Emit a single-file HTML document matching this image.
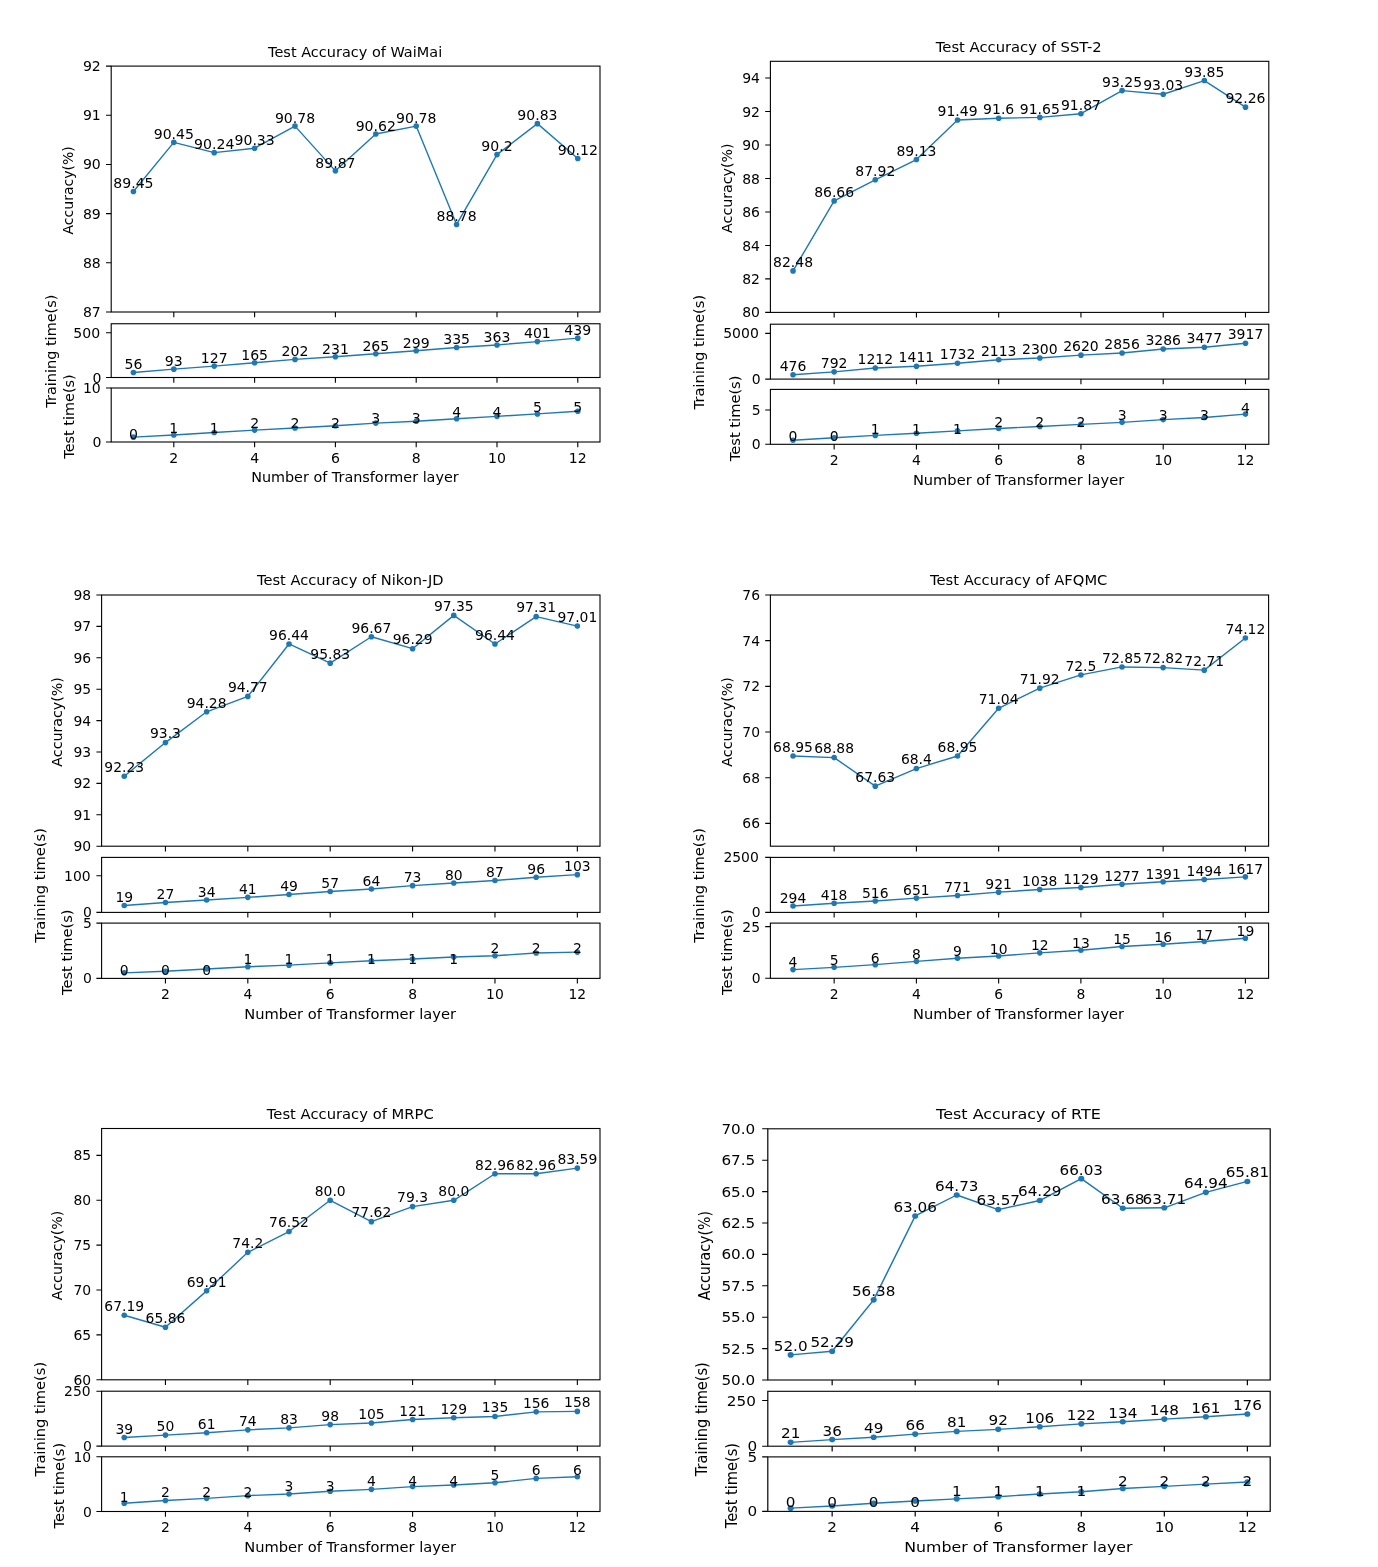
<!DOCTYPE html>
<html lang="en"><head><meta charset="utf-8"><title>Test accuracy vs number of Transformer layers</title>
<style>html,body{margin:0;padding:0;background:#fff}svg{display:block}text{font-family:"DejaVu Sans","Liberation Sans",sans-serif;fill:#000}</style>
</head><body>
<svg width="1378" height="1567" viewBox="0 0 1378 1567">
<rect width="1378" height="1567" fill="#fff"/>
<g>
<polyline points="133.42,191.51 173.81,142.33 214.21,152.66 254.61,148.23 295,126.1 335.4,170.85 375.8,133.97 416.2,126.1 456.59,224.46 496.99,154.62 537.39,123.64 577.78,158.56" fill="none" stroke="#1f77b4" stroke-width="1.4" stroke-linejoin="round"/>
<circle cx="133.42" cy="191.51" r="2.8" fill="#1f77b4"/>
<circle cx="173.81" cy="142.33" r="2.8" fill="#1f77b4"/>
<circle cx="214.21" cy="152.66" r="2.8" fill="#1f77b4"/>
<circle cx="254.61" cy="148.23" r="2.8" fill="#1f77b4"/>
<circle cx="295" cy="126.1" r="2.8" fill="#1f77b4"/>
<circle cx="335.4" cy="170.85" r="2.8" fill="#1f77b4"/>
<circle cx="375.8" cy="133.97" r="2.8" fill="#1f77b4"/>
<circle cx="416.2" cy="126.1" r="2.8" fill="#1f77b4"/>
<circle cx="456.59" cy="224.46" r="2.8" fill="#1f77b4"/>
<circle cx="496.99" cy="154.62" r="2.8" fill="#1f77b4"/>
<circle cx="537.39" cy="123.64" r="2.8" fill="#1f77b4"/>
<circle cx="577.78" cy="158.56" r="2.8" fill="#1f77b4"/>
<text transform="translate(133.42 188.31) scale(1.027 1)" font-size="13.7" text-anchor="middle">89.45</text>
<text transform="translate(173.81 139.13) scale(1.027 1)" font-size="13.7" text-anchor="middle">90.45</text>
<text transform="translate(214.21 149.46) scale(1.027 1)" font-size="13.7" text-anchor="middle">90.24</text>
<text transform="translate(254.61 145.03) scale(1.027 1)" font-size="13.7" text-anchor="middle">90.33</text>
<text transform="translate(295 122.9) scale(1.027 1)" font-size="13.7" text-anchor="middle">90.78</text>
<text transform="translate(335.4 167.65) scale(1.027 1)" font-size="13.7" text-anchor="middle">89.87</text>
<text transform="translate(375.8 130.77) scale(1.027 1)" font-size="13.7" text-anchor="middle">90.62</text>
<text transform="translate(416.2 122.9) scale(1.027 1)" font-size="13.7" text-anchor="middle">90.78</text>
<text transform="translate(456.59 221.26) scale(1.027 1)" font-size="13.7" text-anchor="middle">88.78</text>
<text transform="translate(496.99 151.42) scale(1.027 1)" font-size="13.7" text-anchor="middle">90.2</text>
<text transform="translate(537.39 120.44) scale(1.027 1)" font-size="13.7" text-anchor="middle">90.83</text>
<text transform="translate(577.78 155.36) scale(1.027 1)" font-size="13.7" text-anchor="middle">90.12</text>
<path d="M173.81 312v5.2M254.61 312v5.2M335.4 312v5.2M416.2 312v5.2M496.99 312v5.2M577.78 312v5.2M111.2 312h-5.2M111.2 262.82h-5.2M111.2 213.64h-5.2M111.2 164.46h-5.2M111.2 115.28h-5.2M111.2 66.1h-5.2" stroke="#000" stroke-width="1.1" fill="none"/>
<rect x="111.2" y="66.1" width="488.8" height="245.9" fill="none" stroke="#000" stroke-width="1.1"/>
<text transform="translate(100.8 317) scale(1.027 1)" font-size="13.7" text-anchor="end">87</text>
<text transform="translate(100.8 267.82) scale(1.027 1)" font-size="13.7" text-anchor="end">88</text>
<text transform="translate(100.8 218.64) scale(1.027 1)" font-size="13.7" text-anchor="end">89</text>
<text transform="translate(100.8 169.46) scale(1.027 1)" font-size="13.7" text-anchor="end">90</text>
<text transform="translate(100.8 120.28) scale(1.027 1)" font-size="13.7" text-anchor="end">91</text>
<text transform="translate(100.8 71.1) scale(1.027 1)" font-size="13.7" text-anchor="end">92</text>
<polyline points="133.42,372.48 173.81,369.17 214.21,366.12 254.61,362.72 295,359.4 335.4,356.81 375.8,353.76 416.2,350.71 456.59,347.49 496.99,344.98 537.39,341.58 577.78,338.17" fill="none" stroke="#1f77b4" stroke-width="1.4" stroke-linejoin="round"/>
<circle cx="133.42" cy="372.48" r="2.8" fill="#1f77b4"/>
<circle cx="173.81" cy="369.17" r="2.8" fill="#1f77b4"/>
<circle cx="214.21" cy="366.12" r="2.8" fill="#1f77b4"/>
<circle cx="254.61" cy="362.72" r="2.8" fill="#1f77b4"/>
<circle cx="295" cy="359.4" r="2.8" fill="#1f77b4"/>
<circle cx="335.4" cy="356.81" r="2.8" fill="#1f77b4"/>
<circle cx="375.8" cy="353.76" r="2.8" fill="#1f77b4"/>
<circle cx="416.2" cy="350.71" r="2.8" fill="#1f77b4"/>
<circle cx="456.59" cy="347.49" r="2.8" fill="#1f77b4"/>
<circle cx="496.99" cy="344.98" r="2.8" fill="#1f77b4"/>
<circle cx="537.39" cy="341.58" r="2.8" fill="#1f77b4"/>
<circle cx="577.78" cy="338.17" r="2.8" fill="#1f77b4"/>
<text transform="translate(133.42 369.28) scale(1.027 1)" font-size="13.7" text-anchor="middle">56</text>
<text transform="translate(173.81 365.97) scale(1.027 1)" font-size="13.7" text-anchor="middle">93</text>
<text transform="translate(214.21 362.92) scale(1.027 1)" font-size="13.7" text-anchor="middle">127</text>
<text transform="translate(254.61 359.52) scale(1.027 1)" font-size="13.7" text-anchor="middle">165</text>
<text transform="translate(295 356.2) scale(1.027 1)" font-size="13.7" text-anchor="middle">202</text>
<text transform="translate(335.4 353.61) scale(1.027 1)" font-size="13.7" text-anchor="middle">231</text>
<text transform="translate(375.8 350.56) scale(1.027 1)" font-size="13.7" text-anchor="middle">265</text>
<text transform="translate(416.2 347.51) scale(1.027 1)" font-size="13.7" text-anchor="middle">299</text>
<text transform="translate(456.59 344.29) scale(1.027 1)" font-size="13.7" text-anchor="middle">335</text>
<text transform="translate(496.99 341.78) scale(1.027 1)" font-size="13.7" text-anchor="middle">363</text>
<text transform="translate(537.39 338.38) scale(1.027 1)" font-size="13.7" text-anchor="middle">401</text>
<text transform="translate(577.78 334.97) scale(1.027 1)" font-size="13.7" text-anchor="middle">439</text>
<path d="M173.81 377.5v5.2M254.61 377.5v5.2M335.4 377.5v5.2M416.2 377.5v5.2M496.99 377.5v5.2M577.78 377.5v5.2M111.2 377.5h-5.2M111.2 332.71h-5.2" stroke="#000" stroke-width="1.1" fill="none"/>
<rect x="111.2" y="323.75" width="488.8" height="53.75" fill="none" stroke="#000" stroke-width="1.1"/>
<text transform="translate(101.4 382.5) scale(1.027 1)" font-size="13.7" text-anchor="end">0</text>
<text transform="translate(100.2 337.71) scale(1.027 1)" font-size="13.7" text-anchor="end">500</text>
<polyline points="133.42,437.14 173.81,434.98 214.21,432.55 254.61,430.12 295,427.96 335.4,425.8 375.8,423.1 416.2,421.21 456.59,418.78 496.99,416.35 537.39,413.92 577.78,411.22" fill="none" stroke="#1f77b4" stroke-width="1.4" stroke-linejoin="round"/>
<circle cx="133.42" cy="437.14" r="2.8" fill="#1f77b4"/>
<circle cx="173.81" cy="434.98" r="2.8" fill="#1f77b4"/>
<circle cx="214.21" cy="432.55" r="2.8" fill="#1f77b4"/>
<circle cx="254.61" cy="430.12" r="2.8" fill="#1f77b4"/>
<circle cx="295" cy="427.96" r="2.8" fill="#1f77b4"/>
<circle cx="335.4" cy="425.8" r="2.8" fill="#1f77b4"/>
<circle cx="375.8" cy="423.1" r="2.8" fill="#1f77b4"/>
<circle cx="416.2" cy="421.21" r="2.8" fill="#1f77b4"/>
<circle cx="456.59" cy="418.78" r="2.8" fill="#1f77b4"/>
<circle cx="496.99" cy="416.35" r="2.8" fill="#1f77b4"/>
<circle cx="537.39" cy="413.92" r="2.8" fill="#1f77b4"/>
<circle cx="577.78" cy="411.22" r="2.8" fill="#1f77b4"/>
<text transform="translate(133.42 438.8) scale(1.027 1)" font-size="13.7" text-anchor="middle">0</text>
<text transform="translate(173.81 433.4) scale(1.027 1)" font-size="13.7" text-anchor="middle">1</text>
<text transform="translate(214.21 433.4) scale(1.027 1)" font-size="13.7" text-anchor="middle">1</text>
<text transform="translate(254.61 428) scale(1.027 1)" font-size="13.7" text-anchor="middle">2</text>
<text transform="translate(295 428) scale(1.027 1)" font-size="13.7" text-anchor="middle">2</text>
<text transform="translate(335.4 428) scale(1.027 1)" font-size="13.7" text-anchor="middle">2</text>
<text transform="translate(375.8 422.6) scale(1.027 1)" font-size="13.7" text-anchor="middle">3</text>
<text transform="translate(416.2 422.6) scale(1.027 1)" font-size="13.7" text-anchor="middle">3</text>
<text transform="translate(456.59 417.2) scale(1.027 1)" font-size="13.7" text-anchor="middle">4</text>
<text transform="translate(496.99 417.2) scale(1.027 1)" font-size="13.7" text-anchor="middle">4</text>
<text transform="translate(537.39 411.8) scale(1.027 1)" font-size="13.7" text-anchor="middle">5</text>
<text transform="translate(577.78 411.8) scale(1.027 1)" font-size="13.7" text-anchor="middle">5</text>
<path d="M173.81 442v5.2M254.61 442v5.2M335.4 442v5.2M416.2 442v5.2M496.99 442v5.2M577.78 442v5.2M111.2 442h-5.2M111.2 388h-5.2" stroke="#000" stroke-width="1.1" fill="none"/>
<rect x="111.2" y="388" width="488.8" height="54" fill="none" stroke="#000" stroke-width="1.1"/>
<text transform="translate(101.4 447) scale(1.027 1)" font-size="13.7" text-anchor="end">0</text>
<text transform="translate(100.8 393) scale(1.027 1)" font-size="13.7" text-anchor="end">10</text>
<text transform="translate(173.81 462.6) scale(1.027 1)" font-size="13.7" text-anchor="middle">2</text>
<text transform="translate(254.61 462.6) scale(1.027 1)" font-size="13.7" text-anchor="middle">4</text>
<text transform="translate(335.4 462.6) scale(1.027 1)" font-size="13.7" text-anchor="middle">6</text>
<text transform="translate(416.2 462.6) scale(1.027 1)" font-size="13.7" text-anchor="middle">8</text>
<text transform="translate(496.99 462.6) scale(1.027 1)" font-size="13.7" text-anchor="middle">10</text>
<text transform="translate(577.78 462.6) scale(1.027 1)" font-size="13.7" text-anchor="middle">12</text>
<text transform="translate(355.1 56.5) scale(1.058 1)" font-size="13.7" text-anchor="middle">Test Accuracy of WaiMai</text>
<text transform="translate(354.9 481.9) scale(1.050 1)" font-size="13.7" text-anchor="middle">Number of Transformer layer</text>
<text transform="translate(73.4 190.35) rotate(-90) scale(1.025 1)" font-size="13.7" text-anchor="middle">Accuracy(%)</text>
<text transform="translate(55.8 351.12) rotate(-90) scale(1.055 1)" font-size="13.7" text-anchor="middle">Training time(s)</text>
<text transform="translate(73.7 416.5) rotate(-90) scale(1.055 1)" font-size="13.7" text-anchor="middle">Test time(s)</text>
</g>
<g>
<polyline points="793.02,270.88 834.15,200.91 875.29,179.82 916.42,159.56 957.55,120.06 998.68,118.22 1039.82,117.38 1080.95,113.7 1122.08,90.6 1163.21,94.28 1204.35,80.55 1245.48,107.17" fill="none" stroke="#1f77b4" stroke-width="1.4" stroke-linejoin="round"/>
<circle cx="793.02" cy="270.88" r="2.8" fill="#1f77b4"/>
<circle cx="834.15" cy="200.91" r="2.8" fill="#1f77b4"/>
<circle cx="875.29" cy="179.82" r="2.8" fill="#1f77b4"/>
<circle cx="916.42" cy="159.56" r="2.8" fill="#1f77b4"/>
<circle cx="957.55" cy="120.06" r="2.8" fill="#1f77b4"/>
<circle cx="998.68" cy="118.22" r="2.8" fill="#1f77b4"/>
<circle cx="1039.82" cy="117.38" r="2.8" fill="#1f77b4"/>
<circle cx="1080.95" cy="113.7" r="2.8" fill="#1f77b4"/>
<circle cx="1122.08" cy="90.6" r="2.8" fill="#1f77b4"/>
<circle cx="1163.21" cy="94.28" r="2.8" fill="#1f77b4"/>
<circle cx="1204.35" cy="80.55" r="2.8" fill="#1f77b4"/>
<circle cx="1245.48" cy="107.17" r="2.8" fill="#1f77b4"/>
<text transform="translate(793.02 267.08) scale(1.007 1)" font-size="13.9" text-anchor="middle">82.48</text>
<text transform="translate(834.15 197.11) scale(1.007 1)" font-size="13.9" text-anchor="middle">86.66</text>
<text transform="translate(875.29 176.02) scale(1.007 1)" font-size="13.9" text-anchor="middle">87.92</text>
<text transform="translate(916.42 155.76) scale(1.007 1)" font-size="13.9" text-anchor="middle">89.13</text>
<text transform="translate(957.55 116.26) scale(1.007 1)" font-size="13.9" text-anchor="middle">91.49</text>
<text transform="translate(998.68 114.42) scale(1.007 1)" font-size="13.9" text-anchor="middle">91.6</text>
<text transform="translate(1039.82 113.58) scale(1.007 1)" font-size="13.9" text-anchor="middle">91.65</text>
<text transform="translate(1080.95 109.9) scale(1.007 1)" font-size="13.9" text-anchor="middle">91.87</text>
<text transform="translate(1122.08 86.8) scale(1.007 1)" font-size="13.9" text-anchor="middle">93.25</text>
<text transform="translate(1163.21 90.48) scale(1.007 1)" font-size="13.9" text-anchor="middle">93.03</text>
<text transform="translate(1204.35 76.75) scale(1.007 1)" font-size="13.9" text-anchor="middle">93.85</text>
<text transform="translate(1245.48 103.37) scale(1.007 1)" font-size="13.9" text-anchor="middle">92.26</text>
<path d="M834.15 312.4v5.2M916.42 312.4v5.2M998.68 312.4v5.2M1080.95 312.4v5.2M1163.21 312.4v5.2M1245.48 312.4v5.2M770.4 312.4h-5.2M770.4 278.92h-5.2M770.4 245.44h-5.2M770.4 211.96h-5.2M770.4 178.48h-5.2M770.4 145h-5.2M770.4 111.52h-5.2M770.4 78.04h-5.2" stroke="#000" stroke-width="1.1" fill="none"/>
<rect x="770.4" y="61.3" width="498.4" height="251.1" fill="none" stroke="#000" stroke-width="1.1"/>
<text transform="translate(760 317.47) scale(1.007 1)" font-size="13.9" text-anchor="end">80</text>
<text transform="translate(760 283.99) scale(1.007 1)" font-size="13.9" text-anchor="end">82</text>
<text transform="translate(760 250.51) scale(1.007 1)" font-size="13.9" text-anchor="end">84</text>
<text transform="translate(760 217.03) scale(1.007 1)" font-size="13.9" text-anchor="end">86</text>
<text transform="translate(760 183.55) scale(1.007 1)" font-size="13.9" text-anchor="end">88</text>
<text transform="translate(760 150.07) scale(1.007 1)" font-size="13.9" text-anchor="end">90</text>
<text transform="translate(760 116.59) scale(1.007 1)" font-size="13.9" text-anchor="end">92</text>
<text transform="translate(760 83.11) scale(1.007 1)" font-size="13.9" text-anchor="end">94</text>
<polyline points="793.02,374.74 834.15,371.85 875.29,368.01 916.42,366.19 957.55,363.25 998.68,359.77 1039.82,358.06 1080.95,355.13 1122.08,352.97 1163.21,349.03 1204.35,347.29 1245.48,343.26" fill="none" stroke="#1f77b4" stroke-width="1.4" stroke-linejoin="round"/>
<circle cx="793.02" cy="374.74" r="2.8" fill="#1f77b4"/>
<circle cx="834.15" cy="371.85" r="2.8" fill="#1f77b4"/>
<circle cx="875.29" cy="368.01" r="2.8" fill="#1f77b4"/>
<circle cx="916.42" cy="366.19" r="2.8" fill="#1f77b4"/>
<circle cx="957.55" cy="363.25" r="2.8" fill="#1f77b4"/>
<circle cx="998.68" cy="359.77" r="2.8" fill="#1f77b4"/>
<circle cx="1039.82" cy="358.06" r="2.8" fill="#1f77b4"/>
<circle cx="1080.95" cy="355.13" r="2.8" fill="#1f77b4"/>
<circle cx="1122.08" cy="352.97" r="2.8" fill="#1f77b4"/>
<circle cx="1163.21" cy="349.03" r="2.8" fill="#1f77b4"/>
<circle cx="1204.35" cy="347.29" r="2.8" fill="#1f77b4"/>
<circle cx="1245.48" cy="343.26" r="2.8" fill="#1f77b4"/>
<text transform="translate(793.02 370.94) scale(1.007 1)" font-size="13.9" text-anchor="middle">476</text>
<text transform="translate(834.15 368.05) scale(1.007 1)" font-size="13.9" text-anchor="middle">792</text>
<text transform="translate(875.29 364.21) scale(1.007 1)" font-size="13.9" text-anchor="middle">1212</text>
<text transform="translate(916.42 362.39) scale(1.007 1)" font-size="13.9" text-anchor="middle">1411</text>
<text transform="translate(957.55 359.45) scale(1.007 1)" font-size="13.9" text-anchor="middle">1732</text>
<text transform="translate(998.68 355.97) scale(1.007 1)" font-size="13.9" text-anchor="middle">2113</text>
<text transform="translate(1039.82 354.25) scale(1.007 1)" font-size="13.9" text-anchor="middle">2300</text>
<text transform="translate(1080.95 351.33) scale(1.007 1)" font-size="13.9" text-anchor="middle">2620</text>
<text transform="translate(1122.08 349.17) scale(1.007 1)" font-size="13.9" text-anchor="middle">2856</text>
<text transform="translate(1163.21 345.23) scale(1.007 1)" font-size="13.9" text-anchor="middle">3286</text>
<text transform="translate(1204.35 343.49) scale(1.007 1)" font-size="13.9" text-anchor="middle">3477</text>
<text transform="translate(1245.48 339.46) scale(1.007 1)" font-size="13.9" text-anchor="middle">3917</text>
<path d="M834.15 379.1v5.2M916.42 379.1v5.2M998.68 379.1v5.2M1080.95 379.1v5.2M1163.21 379.1v5.2M1245.48 379.1v5.2M770.4 379.1h-5.2M770.4 333.35h-5.2" stroke="#000" stroke-width="1.1" fill="none"/>
<rect x="770.4" y="324.2" width="498.4" height="54.9" fill="none" stroke="#000" stroke-width="1.1"/>
<text transform="translate(760.6 384.17) scale(1.007 1)" font-size="13.9" text-anchor="end">0</text>
<text transform="translate(758.8 338.42) scale(1.007 1)" font-size="13.9" text-anchor="end">5000</text>
<polyline points="793.02,440.18 834.15,437.78 875.29,435.38 916.42,433.32 957.55,430.92 998.68,428.52 1039.82,426.46 1080.95,424.4 1122.08,422.34 1163.21,419.59 1204.35,417.54 1245.48,414.11" fill="none" stroke="#1f77b4" stroke-width="1.4" stroke-linejoin="round"/>
<circle cx="793.02" cy="440.18" r="2.8" fill="#1f77b4"/>
<circle cx="834.15" cy="437.78" r="2.8" fill="#1f77b4"/>
<circle cx="875.29" cy="435.38" r="2.8" fill="#1f77b4"/>
<circle cx="916.42" cy="433.32" r="2.8" fill="#1f77b4"/>
<circle cx="957.55" cy="430.92" r="2.8" fill="#1f77b4"/>
<circle cx="998.68" cy="428.52" r="2.8" fill="#1f77b4"/>
<circle cx="1039.82" cy="426.46" r="2.8" fill="#1f77b4"/>
<circle cx="1080.95" cy="424.4" r="2.8" fill="#1f77b4"/>
<circle cx="1122.08" cy="422.34" r="2.8" fill="#1f77b4"/>
<circle cx="1163.21" cy="419.59" r="2.8" fill="#1f77b4"/>
<circle cx="1204.35" cy="417.54" r="2.8" fill="#1f77b4"/>
<circle cx="1245.48" cy="414.11" r="2.8" fill="#1f77b4"/>
<text transform="translate(793.02 440.5) scale(1.007 1)" font-size="13.9" text-anchor="middle">0</text>
<text transform="translate(834.15 440.5) scale(1.007 1)" font-size="13.9" text-anchor="middle">0</text>
<text transform="translate(875.29 433.64) scale(1.007 1)" font-size="13.9" text-anchor="middle">1</text>
<text transform="translate(916.42 433.64) scale(1.007 1)" font-size="13.9" text-anchor="middle">1</text>
<text transform="translate(957.55 433.64) scale(1.007 1)" font-size="13.9" text-anchor="middle">1</text>
<text transform="translate(998.68 426.77) scale(1.007 1)" font-size="13.9" text-anchor="middle">2</text>
<text transform="translate(1039.82 426.77) scale(1.007 1)" font-size="13.9" text-anchor="middle">2</text>
<text transform="translate(1080.95 426.77) scale(1.007 1)" font-size="13.9" text-anchor="middle">2</text>
<text transform="translate(1122.08 419.91) scale(1.007 1)" font-size="13.9" text-anchor="middle">3</text>
<text transform="translate(1163.21 419.91) scale(1.007 1)" font-size="13.9" text-anchor="middle">3</text>
<text transform="translate(1204.35 419.91) scale(1.007 1)" font-size="13.9" text-anchor="middle">3</text>
<text transform="translate(1245.48 413.05) scale(1.007 1)" font-size="13.9" text-anchor="middle">4</text>
<path d="M834.15 444.3v5.2M916.42 444.3v5.2M998.68 444.3v5.2M1080.95 444.3v5.2M1163.21 444.3v5.2M1245.48 444.3v5.2M770.4 444.3h-5.2M770.4 409.99h-5.2" stroke="#000" stroke-width="1.1" fill="none"/>
<rect x="770.4" y="389.4" width="498.4" height="54.9" fill="none" stroke="#000" stroke-width="1.1"/>
<text transform="translate(760.6 449.37) scale(1.007 1)" font-size="13.9" text-anchor="end">0</text>
<text transform="translate(760.6 415.06) scale(1.007 1)" font-size="13.9" text-anchor="end">5</text>
<text transform="translate(834.15 465.2) scale(1.007 1)" font-size="13.9" text-anchor="middle">2</text>
<text transform="translate(916.42 465.2) scale(1.007 1)" font-size="13.9" text-anchor="middle">4</text>
<text transform="translate(998.68 465.2) scale(1.007 1)" font-size="13.9" text-anchor="middle">6</text>
<text transform="translate(1080.95 465.2) scale(1.007 1)" font-size="13.9" text-anchor="middle">8</text>
<text transform="translate(1163.21 465.2) scale(1.007 1)" font-size="13.9" text-anchor="middle">10</text>
<text transform="translate(1245.48 465.2) scale(1.007 1)" font-size="13.9" text-anchor="middle">12</text>
<text transform="translate(1018.75 51.9) scale(1.063 1)" font-size="13.9" text-anchor="middle">Test Accuracy of SST-2</text>
<text transform="translate(1018.55 485.4) scale(1.053 1)" font-size="13.9" text-anchor="middle">Number of Transformer layer</text>
<text transform="translate(732.1 188.15) rotate(-90) scale(1.024 1)" font-size="13.9" text-anchor="middle">Accuracy(%)</text>
<text transform="translate(703.8 352.15) rotate(-90) scale(1.054 1)" font-size="13.9" text-anchor="middle">Training time(s)</text>
<text transform="translate(740.4 418.35) rotate(-90) scale(1.054 1)" font-size="13.9" text-anchor="middle">Test time(s)</text>
</g>
<g>
<polyline points="124.25,776.18 165.44,742.58 206.63,711.81 247.82,696.42 289.01,643.98 330.2,663.14 371.4,636.76 412.59,648.69 453.78,615.41 494.97,643.98 536.16,616.67 577.35,626.09" fill="none" stroke="#1f77b4" stroke-width="1.4" stroke-linejoin="round"/>
<circle cx="124.25" cy="776.18" r="2.8" fill="#1f77b4"/>
<circle cx="165.44" cy="742.58" r="2.8" fill="#1f77b4"/>
<circle cx="206.63" cy="711.81" r="2.8" fill="#1f77b4"/>
<circle cx="247.82" cy="696.42" r="2.8" fill="#1f77b4"/>
<circle cx="289.01" cy="643.98" r="2.8" fill="#1f77b4"/>
<circle cx="330.2" cy="663.14" r="2.8" fill="#1f77b4"/>
<circle cx="371.4" cy="636.76" r="2.8" fill="#1f77b4"/>
<circle cx="412.59" cy="648.69" r="2.8" fill="#1f77b4"/>
<circle cx="453.78" cy="615.41" r="2.8" fill="#1f77b4"/>
<circle cx="494.97" cy="643.98" r="2.8" fill="#1f77b4"/>
<circle cx="536.16" cy="616.67" r="2.8" fill="#1f77b4"/>
<circle cx="577.35" cy="626.09" r="2.8" fill="#1f77b4"/>
<text transform="translate(124.25 771.98) scale(1.015 1)" font-size="13.7" text-anchor="middle">92.23</text>
<text transform="translate(165.44 738.38) scale(1.015 1)" font-size="13.7" text-anchor="middle">93.3</text>
<text transform="translate(206.63 707.61) scale(1.015 1)" font-size="13.7" text-anchor="middle">94.28</text>
<text transform="translate(247.82 692.22) scale(1.015 1)" font-size="13.7" text-anchor="middle">94.77</text>
<text transform="translate(289.01 639.78) scale(1.015 1)" font-size="13.7" text-anchor="middle">96.44</text>
<text transform="translate(330.2 658.94) scale(1.015 1)" font-size="13.7" text-anchor="middle">95.83</text>
<text transform="translate(371.4 632.56) scale(1.015 1)" font-size="13.7" text-anchor="middle">96.67</text>
<text transform="translate(412.59 644.49) scale(1.015 1)" font-size="13.7" text-anchor="middle">96.29</text>
<text transform="translate(453.78 611.21) scale(1.015 1)" font-size="13.7" text-anchor="middle">97.35</text>
<text transform="translate(494.97 639.78) scale(1.015 1)" font-size="13.7" text-anchor="middle">96.44</text>
<text transform="translate(536.16 612.47) scale(1.015 1)" font-size="13.7" text-anchor="middle">97.31</text>
<text transform="translate(577.35 621.89) scale(1.015 1)" font-size="13.7" text-anchor="middle">97.01</text>
<path d="M165.44 846.2v5.2M247.82 846.2v5.2M330.2 846.2v5.2M412.59 846.2v5.2M494.97 846.2v5.2M577.35 846.2v5.2M101.6 846.2h-5.2M101.6 814.8h-5.2M101.6 783.4h-5.2M101.6 752h-5.2M101.6 720.6h-5.2M101.6 689.2h-5.2M101.6 657.8h-5.2M101.6 626.4h-5.2M101.6 595h-5.2" stroke="#000" stroke-width="1.1" fill="none"/>
<rect x="101.6" y="595" width="498.4" height="251.2" fill="none" stroke="#000" stroke-width="1.1"/>
<text transform="translate(91.2 851.2) scale(1.015 1)" font-size="13.7" text-anchor="end">90</text>
<text transform="translate(91.2 819.8) scale(1.015 1)" font-size="13.7" text-anchor="end">91</text>
<text transform="translate(91.2 788.4) scale(1.015 1)" font-size="13.7" text-anchor="end">92</text>
<text transform="translate(91.2 757) scale(1.015 1)" font-size="13.7" text-anchor="end">93</text>
<text transform="translate(91.2 725.6) scale(1.015 1)" font-size="13.7" text-anchor="end">94</text>
<text transform="translate(91.2 694.2) scale(1.015 1)" font-size="13.7" text-anchor="end">95</text>
<text transform="translate(91.2 662.8) scale(1.015 1)" font-size="13.7" text-anchor="end">96</text>
<text transform="translate(91.2 631.4) scale(1.015 1)" font-size="13.7" text-anchor="end">97</text>
<text transform="translate(91.2 600) scale(1.015 1)" font-size="13.7" text-anchor="end">98</text>
<polyline points="124.25,905.43 165.44,902.5 206.63,899.93 247.82,897.37 289.01,894.43 330.2,891.5 371.4,888.93 412.59,885.63 453.78,883.07 494.97,880.5 536.16,877.2 577.35,874.63" fill="none" stroke="#1f77b4" stroke-width="1.4" stroke-linejoin="round"/>
<circle cx="124.25" cy="905.43" r="2.8" fill="#1f77b4"/>
<circle cx="165.44" cy="902.5" r="2.8" fill="#1f77b4"/>
<circle cx="206.63" cy="899.93" r="2.8" fill="#1f77b4"/>
<circle cx="247.82" cy="897.37" r="2.8" fill="#1f77b4"/>
<circle cx="289.01" cy="894.43" r="2.8" fill="#1f77b4"/>
<circle cx="330.2" cy="891.5" r="2.8" fill="#1f77b4"/>
<circle cx="371.4" cy="888.93" r="2.8" fill="#1f77b4"/>
<circle cx="412.59" cy="885.63" r="2.8" fill="#1f77b4"/>
<circle cx="453.78" cy="883.07" r="2.8" fill="#1f77b4"/>
<circle cx="494.97" cy="880.5" r="2.8" fill="#1f77b4"/>
<circle cx="536.16" cy="877.2" r="2.8" fill="#1f77b4"/>
<circle cx="577.35" cy="874.63" r="2.8" fill="#1f77b4"/>
<text transform="translate(124.25 902.23) scale(1.015 1)" font-size="13.7" text-anchor="middle">19</text>
<text transform="translate(165.44 899.3) scale(1.015 1)" font-size="13.7" text-anchor="middle">27</text>
<text transform="translate(206.63 896.73) scale(1.015 1)" font-size="13.7" text-anchor="middle">34</text>
<text transform="translate(247.82 894.17) scale(1.015 1)" font-size="13.7" text-anchor="middle">41</text>
<text transform="translate(289.01 891.23) scale(1.015 1)" font-size="13.7" text-anchor="middle">49</text>
<text transform="translate(330.2 888.3) scale(1.015 1)" font-size="13.7" text-anchor="middle">57</text>
<text transform="translate(371.4 885.73) scale(1.015 1)" font-size="13.7" text-anchor="middle">64</text>
<text transform="translate(412.59 882.43) scale(1.015 1)" font-size="13.7" text-anchor="middle">73</text>
<text transform="translate(453.78 879.87) scale(1.015 1)" font-size="13.7" text-anchor="middle">80</text>
<text transform="translate(494.97 877.3) scale(1.015 1)" font-size="13.7" text-anchor="middle">87</text>
<text transform="translate(536.16 874) scale(1.015 1)" font-size="13.7" text-anchor="middle">96</text>
<text transform="translate(577.35 871.43) scale(1.015 1)" font-size="13.7" text-anchor="middle">103</text>
<path d="M165.44 912.4v5.2M247.82 912.4v5.2M330.2 912.4v5.2M412.59 912.4v5.2M494.97 912.4v5.2M577.35 912.4v5.2M101.6 912.4h-5.2M101.6 875.73h-5.2" stroke="#000" stroke-width="1.1" fill="none"/>
<rect x="101.6" y="857.4" width="498.4" height="55" fill="none" stroke="#000" stroke-width="1.1"/>
<text transform="translate(91.8 917.4) scale(1.015 1)" font-size="13.7" text-anchor="end">0</text>
<text transform="translate(90.6 880.73) scale(1.015 1)" font-size="13.7" text-anchor="end">100</text>
<polyline points="124.25,972.87 165.44,971.21 206.63,969 247.82,966.79 289.01,965.13 330.2,962.92 371.4,960.7 412.59,959.04 453.78,957.05 494.97,955.73 536.16,952.96 577.35,952.08" fill="none" stroke="#1f77b4" stroke-width="1.4" stroke-linejoin="round"/>
<circle cx="124.25" cy="972.87" r="2.8" fill="#1f77b4"/>
<circle cx="165.44" cy="971.21" r="2.8" fill="#1f77b4"/>
<circle cx="206.63" cy="969" r="2.8" fill="#1f77b4"/>
<circle cx="247.82" cy="966.79" r="2.8" fill="#1f77b4"/>
<circle cx="289.01" cy="965.13" r="2.8" fill="#1f77b4"/>
<circle cx="330.2" cy="962.92" r="2.8" fill="#1f77b4"/>
<circle cx="371.4" cy="960.7" r="2.8" fill="#1f77b4"/>
<circle cx="412.59" cy="959.04" r="2.8" fill="#1f77b4"/>
<circle cx="453.78" cy="957.05" r="2.8" fill="#1f77b4"/>
<circle cx="494.97" cy="955.73" r="2.8" fill="#1f77b4"/>
<circle cx="536.16" cy="952.96" r="2.8" fill="#1f77b4"/>
<circle cx="577.35" cy="952.08" r="2.8" fill="#1f77b4"/>
<text transform="translate(124.25 975.2) scale(1.015 1)" font-size="13.7" text-anchor="middle">0</text>
<text transform="translate(165.44 975.2) scale(1.015 1)" font-size="13.7" text-anchor="middle">0</text>
<text transform="translate(206.63 975.2) scale(1.015 1)" font-size="13.7" text-anchor="middle">0</text>
<text transform="translate(247.82 964.14) scale(1.015 1)" font-size="13.7" text-anchor="middle">1</text>
<text transform="translate(289.01 964.14) scale(1.015 1)" font-size="13.7" text-anchor="middle">1</text>
<text transform="translate(330.2 964.14) scale(1.015 1)" font-size="13.7" text-anchor="middle">1</text>
<text transform="translate(371.4 964.14) scale(1.015 1)" font-size="13.7" text-anchor="middle">1</text>
<text transform="translate(412.59 964.14) scale(1.015 1)" font-size="13.7" text-anchor="middle">1</text>
<text transform="translate(453.78 964.14) scale(1.015 1)" font-size="13.7" text-anchor="middle">1</text>
<text transform="translate(494.97 953.08) scale(1.015 1)" font-size="13.7" text-anchor="middle">2</text>
<text transform="translate(536.16 953.08) scale(1.015 1)" font-size="13.7" text-anchor="middle">2</text>
<text transform="translate(577.35 953.08) scale(1.015 1)" font-size="13.7" text-anchor="middle">2</text>
<path d="M165.44 978.4v5.2M247.82 978.4v5.2M330.2 978.4v5.2M412.59 978.4v5.2M494.97 978.4v5.2M577.35 978.4v5.2M101.6 978.4h-5.2M101.6 923.1h-5.2" stroke="#000" stroke-width="1.1" fill="none"/>
<rect x="101.6" y="923.1" width="498.4" height="55.3" fill="none" stroke="#000" stroke-width="1.1"/>
<text transform="translate(91.8 983.4) scale(1.015 1)" font-size="13.7" text-anchor="end">0</text>
<text transform="translate(91.8 928.1) scale(1.015 1)" font-size="13.7" text-anchor="end">5</text>
<text transform="translate(165.44 998.8) scale(1.015 1)" font-size="13.7" text-anchor="middle">2</text>
<text transform="translate(247.82 998.8) scale(1.015 1)" font-size="13.7" text-anchor="middle">4</text>
<text transform="translate(330.2 998.8) scale(1.015 1)" font-size="13.7" text-anchor="middle">6</text>
<text transform="translate(412.59 998.8) scale(1.015 1)" font-size="13.7" text-anchor="middle">8</text>
<text transform="translate(494.97 998.8) scale(1.015 1)" font-size="13.7" text-anchor="middle">10</text>
<text transform="translate(577.35 998.8) scale(1.015 1)" font-size="13.7" text-anchor="middle">12</text>
<text transform="translate(350.3 584.7) scale(1.069 1)" font-size="13.7" text-anchor="middle">Test Accuracy of Nikon-JD</text>
<text transform="translate(350.1 1018.8) scale(1.072 1)" font-size="13.7" text-anchor="middle">Number of Transformer layer</text>
<text transform="translate(62.3 721.9) rotate(-90) scale(1.039 1)" font-size="13.7" text-anchor="middle">Accuracy(%)</text>
<text transform="translate(44.7 885.4) rotate(-90) scale(1.069 1)" font-size="13.7" text-anchor="middle">Training time(s)</text>
<text transform="translate(71.6 952.25) rotate(-90) scale(1.069 1)" font-size="13.7" text-anchor="middle">Test time(s)</text>
</g>
<g>
<polyline points="793.02,756 834.14,757.59 875.27,786.14 916.39,768.56 957.51,756 998.64,708.27 1039.76,688.17 1080.89,674.93 1122.01,666.93 1163.13,667.62 1204.26,670.13 1245.38,637.93" fill="none" stroke="#1f77b4" stroke-width="1.4" stroke-linejoin="round"/>
<circle cx="793.02" cy="756" r="2.8" fill="#1f77b4"/>
<circle cx="834.14" cy="757.59" r="2.8" fill="#1f77b4"/>
<circle cx="875.27" cy="786.14" r="2.8" fill="#1f77b4"/>
<circle cx="916.39" cy="768.56" r="2.8" fill="#1f77b4"/>
<circle cx="957.51" cy="756" r="2.8" fill="#1f77b4"/>
<circle cx="998.64" cy="708.27" r="2.8" fill="#1f77b4"/>
<circle cx="1039.76" cy="688.17" r="2.8" fill="#1f77b4"/>
<circle cx="1080.89" cy="674.93" r="2.8" fill="#1f77b4"/>
<circle cx="1122.01" cy="666.93" r="2.8" fill="#1f77b4"/>
<circle cx="1163.13" cy="667.62" r="2.8" fill="#1f77b4"/>
<circle cx="1204.26" cy="670.13" r="2.8" fill="#1f77b4"/>
<circle cx="1245.38" cy="637.93" r="2.8" fill="#1f77b4"/>
<text transform="translate(793.02 751.8) scale(1.015 1)" font-size="13.7" text-anchor="middle">68.95</text>
<text transform="translate(834.14 753.39) scale(1.015 1)" font-size="13.7" text-anchor="middle">68.88</text>
<text transform="translate(875.27 781.94) scale(1.015 1)" font-size="13.7" text-anchor="middle">67.63</text>
<text transform="translate(916.39 764.36) scale(1.015 1)" font-size="13.7" text-anchor="middle">68.4</text>
<text transform="translate(957.51 751.8) scale(1.015 1)" font-size="13.7" text-anchor="middle">68.95</text>
<text transform="translate(998.64 704.07) scale(1.015 1)" font-size="13.7" text-anchor="middle">71.04</text>
<text transform="translate(1039.76 683.97) scale(1.015 1)" font-size="13.7" text-anchor="middle">71.92</text>
<text transform="translate(1080.89 670.73) scale(1.015 1)" font-size="13.7" text-anchor="middle">72.5</text>
<text transform="translate(1122.01 662.73) scale(1.015 1)" font-size="13.7" text-anchor="middle">72.85</text>
<text transform="translate(1163.13 663.42) scale(1.015 1)" font-size="13.7" text-anchor="middle">72.82</text>
<text transform="translate(1204.26 665.93) scale(1.015 1)" font-size="13.7" text-anchor="middle">72.71</text>
<text transform="translate(1245.38 633.73) scale(1.015 1)" font-size="13.7" text-anchor="middle">74.12</text>
<path d="M834.14 846.2v5.2M916.39 846.2v5.2M998.64 846.2v5.2M1080.89 846.2v5.2M1163.13 846.2v5.2M1245.38 846.2v5.2M770.4 823.36h-5.2M770.4 777.69h-5.2M770.4 732.02h-5.2M770.4 686.35h-5.2M770.4 640.67h-5.2M770.4 595h-5.2" stroke="#000" stroke-width="1.1" fill="none"/>
<rect x="770.4" y="595" width="498.2" height="251.2" fill="none" stroke="#000" stroke-width="1.1"/>
<text transform="translate(760 828.36) scale(1.015 1)" font-size="13.7" text-anchor="end">66</text>
<text transform="translate(760 782.69) scale(1.015 1)" font-size="13.7" text-anchor="end">68</text>
<text transform="translate(760 737.02) scale(1.015 1)" font-size="13.7" text-anchor="end">70</text>
<text transform="translate(760 691.35) scale(1.015 1)" font-size="13.7" text-anchor="end">72</text>
<text transform="translate(760 645.67) scale(1.015 1)" font-size="13.7" text-anchor="end">74</text>
<text transform="translate(760 600) scale(1.015 1)" font-size="13.7" text-anchor="end">76</text>
<polyline points="793.02,905.93 834.14,903.2 875.27,901.05 916.39,898.08 957.51,895.44 998.64,892.14 1039.76,889.56 1080.89,887.56 1122.01,884.31 1163.13,881.8 1204.26,879.53 1245.38,876.83" fill="none" stroke="#1f77b4" stroke-width="1.4" stroke-linejoin="round"/>
<circle cx="793.02" cy="905.93" r="2.8" fill="#1f77b4"/>
<circle cx="834.14" cy="903.2" r="2.8" fill="#1f77b4"/>
<circle cx="875.27" cy="901.05" r="2.8" fill="#1f77b4"/>
<circle cx="916.39" cy="898.08" r="2.8" fill="#1f77b4"/>
<circle cx="957.51" cy="895.44" r="2.8" fill="#1f77b4"/>
<circle cx="998.64" cy="892.14" r="2.8" fill="#1f77b4"/>
<circle cx="1039.76" cy="889.56" r="2.8" fill="#1f77b4"/>
<circle cx="1080.89" cy="887.56" r="2.8" fill="#1f77b4"/>
<circle cx="1122.01" cy="884.31" r="2.8" fill="#1f77b4"/>
<circle cx="1163.13" cy="881.8" r="2.8" fill="#1f77b4"/>
<circle cx="1204.26" cy="879.53" r="2.8" fill="#1f77b4"/>
<circle cx="1245.38" cy="876.83" r="2.8" fill="#1f77b4"/>
<text transform="translate(793.02 902.73) scale(1.015 1)" font-size="13.7" text-anchor="middle">294</text>
<text transform="translate(834.14 900) scale(1.015 1)" font-size="13.7" text-anchor="middle">418</text>
<text transform="translate(875.27 897.85) scale(1.015 1)" font-size="13.7" text-anchor="middle">516</text>
<text transform="translate(916.39 894.88) scale(1.015 1)" font-size="13.7" text-anchor="middle">651</text>
<text transform="translate(957.51 892.24) scale(1.015 1)" font-size="13.7" text-anchor="middle">771</text>
<text transform="translate(998.64 888.94) scale(1.015 1)" font-size="13.7" text-anchor="middle">921</text>
<text transform="translate(1039.76 886.36) scale(1.015 1)" font-size="13.7" text-anchor="middle">1038</text>
<text transform="translate(1080.89 884.36) scale(1.015 1)" font-size="13.7" text-anchor="middle">1129</text>
<text transform="translate(1122.01 881.11) scale(1.015 1)" font-size="13.7" text-anchor="middle">1277</text>
<text transform="translate(1163.13 878.6) scale(1.015 1)" font-size="13.7" text-anchor="middle">1391</text>
<text transform="translate(1204.26 876.33) scale(1.015 1)" font-size="13.7" text-anchor="middle">1494</text>
<text transform="translate(1245.38 873.63) scale(1.015 1)" font-size="13.7" text-anchor="middle">1617</text>
<path d="M834.14 912.4v5.2M916.39 912.4v5.2M998.64 912.4v5.2M1080.89 912.4v5.2M1163.13 912.4v5.2M1245.38 912.4v5.2M770.4 912.4h-5.2M770.4 857.4h-5.2" stroke="#000" stroke-width="1.1" fill="none"/>
<rect x="770.4" y="857.4" width="498.2" height="55" fill="none" stroke="#000" stroke-width="1.1"/>
<text transform="translate(760.6 917.4) scale(1.015 1)" font-size="13.7" text-anchor="end">0</text>
<text transform="translate(758.8 862.4) scale(1.015 1)" font-size="13.7" text-anchor="end">2500</text>
<polyline points="793.02,969.62 834.14,967.34 875.27,964.66 916.39,961.35 957.51,958.25 998.64,955.97 1039.76,952.87 1080.89,950.18 1122.01,946.46 1163.13,944.19 1204.26,941.5 1245.38,938.19" fill="none" stroke="#1f77b4" stroke-width="1.4" stroke-linejoin="round"/>
<circle cx="793.02" cy="969.62" r="2.8" fill="#1f77b4"/>
<circle cx="834.14" cy="967.34" r="2.8" fill="#1f77b4"/>
<circle cx="875.27" cy="964.66" r="2.8" fill="#1f77b4"/>
<circle cx="916.39" cy="961.35" r="2.8" fill="#1f77b4"/>
<circle cx="957.51" cy="958.25" r="2.8" fill="#1f77b4"/>
<circle cx="998.64" cy="955.97" r="2.8" fill="#1f77b4"/>
<circle cx="1039.76" cy="952.87" r="2.8" fill="#1f77b4"/>
<circle cx="1080.89" cy="950.18" r="2.8" fill="#1f77b4"/>
<circle cx="1122.01" cy="946.46" r="2.8" fill="#1f77b4"/>
<circle cx="1163.13" cy="944.19" r="2.8" fill="#1f77b4"/>
<circle cx="1204.26" cy="941.5" r="2.8" fill="#1f77b4"/>
<circle cx="1245.38" cy="938.19" r="2.8" fill="#1f77b4"/>
<text transform="translate(793.02 966.83) scale(1.015 1)" font-size="13.7" text-anchor="middle">4</text>
<text transform="translate(834.14 964.76) scale(1.015 1)" font-size="13.7" text-anchor="middle">5</text>
<text transform="translate(875.27 962.7) scale(1.015 1)" font-size="13.7" text-anchor="middle">6</text>
<text transform="translate(916.39 958.56) scale(1.015 1)" font-size="13.7" text-anchor="middle">8</text>
<text transform="translate(957.51 956.49) scale(1.015 1)" font-size="13.7" text-anchor="middle">9</text>
<text transform="translate(998.64 954.43) scale(1.015 1)" font-size="13.7" text-anchor="middle">10</text>
<text transform="translate(1039.76 950.29) scale(1.015 1)" font-size="13.7" text-anchor="middle">12</text>
<text transform="translate(1080.89 948.22) scale(1.015 1)" font-size="13.7" text-anchor="middle">13</text>
<text transform="translate(1122.01 944.09) scale(1.015 1)" font-size="13.7" text-anchor="middle">15</text>
<text transform="translate(1163.13 942.02) scale(1.015 1)" font-size="13.7" text-anchor="middle">16</text>
<text transform="translate(1204.26 939.95) scale(1.015 1)" font-size="13.7" text-anchor="middle">17</text>
<text transform="translate(1245.38 935.82) scale(1.015 1)" font-size="13.7" text-anchor="middle">19</text>
<path d="M834.14 978.3v5.2M916.39 978.3v5.2M998.64 978.3v5.2M1080.89 978.3v5.2M1163.13 978.3v5.2M1245.38 978.3v5.2M770.4 978.3h-5.2M770.4 926.61h-5.2" stroke="#000" stroke-width="1.1" fill="none"/>
<rect x="770.4" y="923.1" width="498.2" height="55.2" fill="none" stroke="#000" stroke-width="1.1"/>
<text transform="translate(760.6 983.3) scale(1.015 1)" font-size="13.7" text-anchor="end">0</text>
<text transform="translate(760 931.62) scale(1.015 1)" font-size="13.7" text-anchor="end">25</text>
<text transform="translate(834.14 998.7) scale(1.015 1)" font-size="13.7" text-anchor="middle">2</text>
<text transform="translate(916.39 998.7) scale(1.015 1)" font-size="13.7" text-anchor="middle">4</text>
<text transform="translate(998.64 998.7) scale(1.015 1)" font-size="13.7" text-anchor="middle">6</text>
<text transform="translate(1080.89 998.7) scale(1.015 1)" font-size="13.7" text-anchor="middle">8</text>
<text transform="translate(1163.13 998.7) scale(1.015 1)" font-size="13.7" text-anchor="middle">10</text>
<text transform="translate(1245.38 998.7) scale(1.015 1)" font-size="13.7" text-anchor="middle">12</text>
<text transform="translate(1018.7 584.9) scale(1.074 1)" font-size="13.7" text-anchor="middle">Test Accuracy of AFQMC</text>
<text transform="translate(1018.5 1018.9) scale(1.068 1)" font-size="13.7" text-anchor="middle">Number of Transformer layer</text>
<text transform="translate(732.1 721.9) rotate(-90) scale(1.039 1)" font-size="13.7" text-anchor="middle">Accuracy(%)</text>
<text transform="translate(703.8 885.4) rotate(-90) scale(1.069 1)" font-size="13.7" text-anchor="middle">Training time(s)</text>
<text transform="translate(732.4 952.2) rotate(-90) scale(1.069 1)" font-size="13.7" text-anchor="middle">Test time(s)</text>
</g>
<g>
<polyline points="124.25,1315.27 165.44,1327.21 206.63,1290.86 247.82,1252.36 289.01,1231.53 330.2,1200.3 371.4,1221.66 412.59,1206.58 453.78,1200.3 494.97,1173.73 536.16,1173.73 577.35,1168.08" fill="none" stroke="#1f77b4" stroke-width="1.4" stroke-linejoin="round"/>
<circle cx="124.25" cy="1315.27" r="2.8" fill="#1f77b4"/>
<circle cx="165.44" cy="1327.21" r="2.8" fill="#1f77b4"/>
<circle cx="206.63" cy="1290.86" r="2.8" fill="#1f77b4"/>
<circle cx="247.82" cy="1252.36" r="2.8" fill="#1f77b4"/>
<circle cx="289.01" cy="1231.53" r="2.8" fill="#1f77b4"/>
<circle cx="330.2" cy="1200.3" r="2.8" fill="#1f77b4"/>
<circle cx="371.4" cy="1221.66" r="2.8" fill="#1f77b4"/>
<circle cx="412.59" cy="1206.58" r="2.8" fill="#1f77b4"/>
<circle cx="453.78" cy="1200.3" r="2.8" fill="#1f77b4"/>
<circle cx="494.97" cy="1173.73" r="2.8" fill="#1f77b4"/>
<circle cx="536.16" cy="1173.73" r="2.8" fill="#1f77b4"/>
<circle cx="577.35" cy="1168.08" r="2.8" fill="#1f77b4"/>
<text transform="translate(124.25 1311.07) scale(1.015 1)" font-size="13.7" text-anchor="middle">67.19</text>
<text transform="translate(165.44 1323.01) scale(1.015 1)" font-size="13.7" text-anchor="middle">65.86</text>
<text transform="translate(206.63 1286.66) scale(1.015 1)" font-size="13.7" text-anchor="middle">69.91</text>
<text transform="translate(247.82 1248.15) scale(1.015 1)" font-size="13.7" text-anchor="middle">74.2</text>
<text transform="translate(289.01 1227.33) scale(1.015 1)" font-size="13.7" text-anchor="middle">76.52</text>
<text transform="translate(330.2 1196.1) scale(1.015 1)" font-size="13.7" text-anchor="middle">80.0</text>
<text transform="translate(371.4 1217.46) scale(1.015 1)" font-size="13.7" text-anchor="middle">77.62</text>
<text transform="translate(412.59 1202.38) scale(1.015 1)" font-size="13.7" text-anchor="middle">79.3</text>
<text transform="translate(453.78 1196.1) scale(1.015 1)" font-size="13.7" text-anchor="middle">80.0</text>
<text transform="translate(494.97 1169.53) scale(1.015 1)" font-size="13.7" text-anchor="middle">82.96</text>
<text transform="translate(536.16 1169.53) scale(1.015 1)" font-size="13.7" text-anchor="middle">82.96</text>
<text transform="translate(577.35 1163.88) scale(1.015 1)" font-size="13.7" text-anchor="middle">83.59</text>
<path d="M165.44 1379.8v5.2M247.82 1379.8v5.2M330.2 1379.8v5.2M412.59 1379.8v5.2M494.97 1379.8v5.2M577.35 1379.8v5.2M101.6 1379.8h-5.2M101.6 1334.92h-5.2M101.6 1290.05h-5.2M101.6 1245.17h-5.2M101.6 1200.3h-5.2M101.6 1155.42h-5.2" stroke="#000" stroke-width="1.1" fill="none"/>
<rect x="101.6" y="1128.5" width="498.4" height="251.3" fill="none" stroke="#000" stroke-width="1.1"/>
<text transform="translate(91.2 1384.8) scale(1.015 1)" font-size="13.7" text-anchor="end">60</text>
<text transform="translate(91.2 1339.93) scale(1.015 1)" font-size="13.7" text-anchor="end">65</text>
<text transform="translate(91.2 1295.05) scale(1.015 1)" font-size="13.7" text-anchor="end">70</text>
<text transform="translate(91.2 1250.18) scale(1.015 1)" font-size="13.7" text-anchor="end">75</text>
<text transform="translate(91.2 1205.3) scale(1.015 1)" font-size="13.7" text-anchor="end">80</text>
<text transform="translate(91.2 1160.43) scale(1.015 1)" font-size="13.7" text-anchor="end">85</text>
<polyline points="124.25,1437.54 165.44,1435.12 206.63,1432.7 247.82,1429.85 289.01,1427.87 330.2,1424.58 371.4,1423.04 412.59,1419.53 453.78,1417.77 494.97,1416.45 536.16,1411.84 577.35,1411.4" fill="none" stroke="#1f77b4" stroke-width="1.4" stroke-linejoin="round"/>
<circle cx="124.25" cy="1437.54" r="2.8" fill="#1f77b4"/>
<circle cx="165.44" cy="1435.12" r="2.8" fill="#1f77b4"/>
<circle cx="206.63" cy="1432.7" r="2.8" fill="#1f77b4"/>
<circle cx="247.82" cy="1429.85" r="2.8" fill="#1f77b4"/>
<circle cx="289.01" cy="1427.87" r="2.8" fill="#1f77b4"/>
<circle cx="330.2" cy="1424.58" r="2.8" fill="#1f77b4"/>
<circle cx="371.4" cy="1423.04" r="2.8" fill="#1f77b4"/>
<circle cx="412.59" cy="1419.53" r="2.8" fill="#1f77b4"/>
<circle cx="453.78" cy="1417.77" r="2.8" fill="#1f77b4"/>
<circle cx="494.97" cy="1416.45" r="2.8" fill="#1f77b4"/>
<circle cx="536.16" cy="1411.84" r="2.8" fill="#1f77b4"/>
<circle cx="577.35" cy="1411.4" r="2.8" fill="#1f77b4"/>
<text transform="translate(124.25 1433.54) scale(1.015 1)" font-size="13.7" text-anchor="middle">39</text>
<text transform="translate(165.44 1431.12) scale(1.015 1)" font-size="13.7" text-anchor="middle">50</text>
<text transform="translate(206.63 1428.7) scale(1.015 1)" font-size="13.7" text-anchor="middle">61</text>
<text transform="translate(247.82 1425.85) scale(1.015 1)" font-size="13.7" text-anchor="middle">74</text>
<text transform="translate(289.01 1423.87) scale(1.015 1)" font-size="13.7" text-anchor="middle">83</text>
<text transform="translate(330.2 1420.58) scale(1.015 1)" font-size="13.7" text-anchor="middle">98</text>
<text transform="translate(371.4 1419.04) scale(1.015 1)" font-size="13.7" text-anchor="middle">105</text>
<text transform="translate(412.59 1415.53) scale(1.015 1)" font-size="13.7" text-anchor="middle">121</text>
<text transform="translate(453.78 1413.77) scale(1.015 1)" font-size="13.7" text-anchor="middle">129</text>
<text transform="translate(494.97 1412.45) scale(1.015 1)" font-size="13.7" text-anchor="middle">135</text>
<text transform="translate(536.16 1407.84) scale(1.015 1)" font-size="13.7" text-anchor="middle">156</text>
<text transform="translate(577.35 1407.4) scale(1.015 1)" font-size="13.7" text-anchor="middle">158</text>
<path d="M165.44 1446.1v5.2M247.82 1446.1v5.2M330.2 1446.1v5.2M412.59 1446.1v5.2M494.97 1446.1v5.2M577.35 1446.1v5.2M101.6 1446.1h-5.2M101.6 1391.2h-5.2" stroke="#000" stroke-width="1.1" fill="none"/>
<rect x="101.6" y="1391.2" width="498.4" height="54.9" fill="none" stroke="#000" stroke-width="1.1"/>
<text transform="translate(91.8 1451.1) scale(1.015 1)" font-size="13.7" text-anchor="end">0</text>
<text transform="translate(90.6 1396.2) scale(1.015 1)" font-size="13.7" text-anchor="end">250</text>
<polyline points="124.25,1503.3 165.44,1500.56 206.63,1498.37 247.82,1495.64 289.01,1494 330.2,1491.26 371.4,1489.35 412.59,1486.61 453.78,1484.97 494.97,1482.78 536.16,1478.41 577.35,1476.77" fill="none" stroke="#1f77b4" stroke-width="1.4" stroke-linejoin="round"/>
<circle cx="124.25" cy="1503.3" r="2.8" fill="#1f77b4"/>
<circle cx="165.44" cy="1500.56" r="2.8" fill="#1f77b4"/>
<circle cx="206.63" cy="1498.37" r="2.8" fill="#1f77b4"/>
<circle cx="247.82" cy="1495.64" r="2.8" fill="#1f77b4"/>
<circle cx="289.01" cy="1494" r="2.8" fill="#1f77b4"/>
<circle cx="330.2" cy="1491.26" r="2.8" fill="#1f77b4"/>
<circle cx="371.4" cy="1489.35" r="2.8" fill="#1f77b4"/>
<circle cx="412.59" cy="1486.61" r="2.8" fill="#1f77b4"/>
<circle cx="453.78" cy="1484.97" r="2.8" fill="#1f77b4"/>
<circle cx="494.97" cy="1482.78" r="2.8" fill="#1f77b4"/>
<circle cx="536.16" cy="1478.41" r="2.8" fill="#1f77b4"/>
<circle cx="577.35" cy="1476.77" r="2.8" fill="#1f77b4"/>
<text transform="translate(124.25 1502.03) scale(1.015 1)" font-size="13.7" text-anchor="middle">1</text>
<text transform="translate(165.44 1496.56) scale(1.015 1)" font-size="13.7" text-anchor="middle">2</text>
<text transform="translate(206.63 1496.56) scale(1.015 1)" font-size="13.7" text-anchor="middle">2</text>
<text transform="translate(247.82 1496.56) scale(1.015 1)" font-size="13.7" text-anchor="middle">2</text>
<text transform="translate(289.01 1491.09) scale(1.015 1)" font-size="13.7" text-anchor="middle">3</text>
<text transform="translate(330.2 1491.09) scale(1.015 1)" font-size="13.7" text-anchor="middle">3</text>
<text transform="translate(371.4 1485.62) scale(1.015 1)" font-size="13.7" text-anchor="middle">4</text>
<text transform="translate(412.59 1485.62) scale(1.015 1)" font-size="13.7" text-anchor="middle">4</text>
<text transform="translate(453.78 1485.62) scale(1.015 1)" font-size="13.7" text-anchor="middle">4</text>
<text transform="translate(494.97 1480.15) scale(1.015 1)" font-size="13.7" text-anchor="middle">5</text>
<text transform="translate(536.16 1474.68) scale(1.015 1)" font-size="13.7" text-anchor="middle">6</text>
<text transform="translate(577.35 1474.68) scale(1.015 1)" font-size="13.7" text-anchor="middle">6</text>
<path d="M165.44 1511.5v5.2M247.82 1511.5v5.2M330.2 1511.5v5.2M412.59 1511.5v5.2M494.97 1511.5v5.2M577.35 1511.5v5.2M101.6 1511.5h-5.2M101.6 1456.8h-5.2" stroke="#000" stroke-width="1.1" fill="none"/>
<rect x="101.6" y="1456.8" width="498.4" height="54.7" fill="none" stroke="#000" stroke-width="1.1"/>
<text transform="translate(91.8 1516.5) scale(1.015 1)" font-size="13.7" text-anchor="end">0</text>
<text transform="translate(91.2 1461.8) scale(1.015 1)" font-size="13.7" text-anchor="end">10</text>
<text transform="translate(165.44 1532.3) scale(1.015 1)" font-size="13.7" text-anchor="middle">2</text>
<text transform="translate(247.82 1532.3) scale(1.015 1)" font-size="13.7" text-anchor="middle">4</text>
<text transform="translate(330.2 1532.3) scale(1.015 1)" font-size="13.7" text-anchor="middle">6</text>
<text transform="translate(412.59 1532.3) scale(1.015 1)" font-size="13.7" text-anchor="middle">8</text>
<text transform="translate(494.97 1532.3) scale(1.015 1)" font-size="13.7" text-anchor="middle">10</text>
<text transform="translate(577.35 1532.3) scale(1.015 1)" font-size="13.7" text-anchor="middle">12</text>
<text transform="translate(350.3 1118.6) scale(1.078 1)" font-size="13.7" text-anchor="middle">Test Accuracy of MRPC</text>
<text transform="translate(350.1 1552.3) scale(1.072 1)" font-size="13.7" text-anchor="middle">Number of Transformer layer</text>
<text transform="translate(62.3 1255.45) rotate(-90) scale(1.039 1)" font-size="13.7" text-anchor="middle">Accuracy(%)</text>
<text transform="translate(45.2 1419.15) rotate(-90) scale(1.069 1)" font-size="13.7" text-anchor="middle">Training time(s)</text>
<text transform="translate(63.6 1485.65) rotate(-90) scale(1.069 1)" font-size="13.7" text-anchor="middle">Test time(s)</text>
</g>
<g transform="scale(1.0870 1)">
<polyline points="727.36,1354.88 765.55,1351.24 803.75,1299.87 841.95,1215.97 880.15,1194.99 918.34,1209.56 956.54,1200.52 994.74,1178.66 1032.94,1208.18 1071.13,1207.8 1109.33,1192.35 1147.53,1181.43" fill="none" stroke="#1f77b4" stroke-width="1.4" stroke-linejoin="round"/>
<circle cx="727.36" cy="1354.88" r="2.8" fill="#1f77b4"/>
<circle cx="765.55" cy="1351.24" r="2.8" fill="#1f77b4"/>
<circle cx="803.75" cy="1299.87" r="2.8" fill="#1f77b4"/>
<circle cx="841.95" cy="1215.97" r="2.8" fill="#1f77b4"/>
<circle cx="880.15" cy="1194.99" r="2.8" fill="#1f77b4"/>
<circle cx="918.34" cy="1209.56" r="2.8" fill="#1f77b4"/>
<circle cx="956.54" cy="1200.52" r="2.8" fill="#1f77b4"/>
<circle cx="994.74" cy="1178.66" r="2.8" fill="#1f77b4"/>
<circle cx="1032.94" cy="1208.18" r="2.8" fill="#1f77b4"/>
<circle cx="1071.13" cy="1207.8" r="2.8" fill="#1f77b4"/>
<circle cx="1109.33" cy="1192.35" r="2.8" fill="#1f77b4"/>
<circle cx="1147.53" cy="1181.43" r="2.8" fill="#1f77b4"/>
<text transform="translate(727.36 1350.78) scale(1.006 1)" font-size="13.9" text-anchor="middle">52.0</text>
<text transform="translate(765.55 1347.14) scale(1.006 1)" font-size="13.9" text-anchor="middle">52.29</text>
<text transform="translate(803.75 1295.77) scale(1.006 1)" font-size="13.9" text-anchor="middle">56.38</text>
<text transform="translate(841.95 1211.87) scale(1.006 1)" font-size="13.9" text-anchor="middle">63.06</text>
<text transform="translate(880.15 1190.89) scale(1.006 1)" font-size="13.9" text-anchor="middle">64.73</text>
<text transform="translate(918.34 1205.46) scale(1.006 1)" font-size="13.9" text-anchor="middle">63.57</text>
<text transform="translate(956.54 1196.42) scale(1.006 1)" font-size="13.9" text-anchor="middle">64.29</text>
<text transform="translate(994.74 1174.56) scale(1.006 1)" font-size="13.9" text-anchor="middle">66.03</text>
<text transform="translate(1032.94 1204.08) scale(1.006 1)" font-size="13.9" text-anchor="middle">63.68</text>
<text transform="translate(1071.13 1203.7) scale(1.006 1)" font-size="13.9" text-anchor="middle">63.71</text>
<text transform="translate(1109.33 1188.25) scale(1.006 1)" font-size="13.9" text-anchor="middle">64.94</text>
<text transform="translate(1147.53 1177.33) scale(1.006 1)" font-size="13.9" text-anchor="middle">65.81</text>
<path d="M765.55 1380v5.2M841.95 1380v5.2M918.34 1380v5.2M994.74 1380v5.2M1071.13 1380v5.2M1147.53 1380v5.2M706.35 1380h-5.2M706.35 1348.6h-5.2M706.35 1317.2h-5.2M706.35 1285.8h-5.2M706.35 1254.4h-5.2M706.35 1223h-5.2M706.35 1191.6h-5.2M706.35 1160.2h-5.2M706.35 1128.8h-5.2" stroke="#000" stroke-width="1.1" fill="none"/>
<rect x="706.35" y="1128.8" width="462.19" height="251.2" fill="none" stroke="#000" stroke-width="1.1"/>
<text transform="translate(694.75 1385.07) scale(1.006 1)" font-size="13.9" text-anchor="end">50.0</text>
<text transform="translate(694.75 1353.67) scale(1.006 1)" font-size="13.9" text-anchor="end">52.5</text>
<text transform="translate(694.75 1322.27) scale(1.006 1)" font-size="13.9" text-anchor="end">55.0</text>
<text transform="translate(694.75 1290.87) scale(1.006 1)" font-size="13.9" text-anchor="end">57.5</text>
<text transform="translate(694.75 1259.47) scale(1.006 1)" font-size="13.9" text-anchor="end">60.0</text>
<text transform="translate(694.75 1228.07) scale(1.006 1)" font-size="13.9" text-anchor="end">62.5</text>
<text transform="translate(694.75 1196.67) scale(1.006 1)" font-size="13.9" text-anchor="end">65.0</text>
<text transform="translate(694.75 1165.27) scale(1.006 1)" font-size="13.9" text-anchor="end">67.5</text>
<text transform="translate(694.75 1133.87) scale(1.006 1)" font-size="13.9" text-anchor="end">70.0</text>
<polyline points="727.36,1442.36 765.55,1439.61 803.75,1437.23 841.95,1434.12 880.15,1431.38 918.34,1429.36 956.54,1426.8 994.74,1423.87 1032.94,1421.68 1071.13,1419.12 1109.33,1416.74 1147.53,1413.99" fill="none" stroke="#1f77b4" stroke-width="1.4" stroke-linejoin="round"/>
<circle cx="727.36" cy="1442.36" r="2.8" fill="#1f77b4"/>
<circle cx="765.55" cy="1439.61" r="2.8" fill="#1f77b4"/>
<circle cx="803.75" cy="1437.23" r="2.8" fill="#1f77b4"/>
<circle cx="841.95" cy="1434.12" r="2.8" fill="#1f77b4"/>
<circle cx="880.15" cy="1431.38" r="2.8" fill="#1f77b4"/>
<circle cx="918.34" cy="1429.36" r="2.8" fill="#1f77b4"/>
<circle cx="956.54" cy="1426.8" r="2.8" fill="#1f77b4"/>
<circle cx="994.74" cy="1423.87" r="2.8" fill="#1f77b4"/>
<circle cx="1032.94" cy="1421.68" r="2.8" fill="#1f77b4"/>
<circle cx="1071.13" cy="1419.12" r="2.8" fill="#1f77b4"/>
<circle cx="1109.33" cy="1416.74" r="2.8" fill="#1f77b4"/>
<circle cx="1147.53" cy="1413.99" r="2.8" fill="#1f77b4"/>
<text transform="translate(727.36 1438.26) scale(1.006 1)" font-size="13.9" text-anchor="middle">21</text>
<text transform="translate(765.55 1435.51) scale(1.006 1)" font-size="13.9" text-anchor="middle">36</text>
<text transform="translate(803.75 1433.13) scale(1.006 1)" font-size="13.9" text-anchor="middle">49</text>
<text transform="translate(841.95 1430.02) scale(1.006 1)" font-size="13.9" text-anchor="middle">66</text>
<text transform="translate(880.15 1427.28) scale(1.006 1)" font-size="13.9" text-anchor="middle">81</text>
<text transform="translate(918.34 1425.26) scale(1.006 1)" font-size="13.9" text-anchor="middle">92</text>
<text transform="translate(956.54 1422.7) scale(1.006 1)" font-size="13.9" text-anchor="middle">106</text>
<text transform="translate(994.74 1419.77) scale(1.006 1)" font-size="13.9" text-anchor="middle">122</text>
<text transform="translate(1032.94 1417.58) scale(1.006 1)" font-size="13.9" text-anchor="middle">134</text>
<text transform="translate(1071.13 1415.02) scale(1.006 1)" font-size="13.9" text-anchor="middle">148</text>
<text transform="translate(1109.33 1412.64) scale(1.006 1)" font-size="13.9" text-anchor="middle">161</text>
<text transform="translate(1147.53 1409.89) scale(1.006 1)" font-size="13.9" text-anchor="middle">176</text>
<path d="M765.55 1446.2v5.2M841.95 1446.2v5.2M918.34 1446.2v5.2M994.74 1446.2v5.2M1071.13 1446.2v5.2M1147.53 1446.2v5.2M706.35 1446.2h-5.2M706.35 1400.45h-5.2" stroke="#000" stroke-width="1.1" fill="none"/>
<rect x="706.35" y="1391.3" width="462.19" height="54.9" fill="none" stroke="#000" stroke-width="1.1"/>
<text transform="translate(696.55 1451.27) scale(1.006 1)" font-size="13.9" text-anchor="end">0</text>
<text transform="translate(695.35 1405.52) scale(1.006 1)" font-size="13.9" text-anchor="end">250</text>
<polyline points="727.36,1508.13 765.55,1505.95 803.75,1503.23 841.95,1501.05 880.15,1498.87 918.34,1496.69 956.54,1493.96 994.74,1491.78 1032.94,1488.51 1071.13,1486.33 1109.33,1484.15 1147.53,1481.97" fill="none" stroke="#1f77b4" stroke-width="1.4" stroke-linejoin="round"/>
<circle cx="727.36" cy="1508.13" r="2.8" fill="#1f77b4"/>
<circle cx="765.55" cy="1505.95" r="2.8" fill="#1f77b4"/>
<circle cx="803.75" cy="1503.23" r="2.8" fill="#1f77b4"/>
<circle cx="841.95" cy="1501.05" r="2.8" fill="#1f77b4"/>
<circle cx="880.15" cy="1498.87" r="2.8" fill="#1f77b4"/>
<circle cx="918.34" cy="1496.69" r="2.8" fill="#1f77b4"/>
<circle cx="956.54" cy="1493.96" r="2.8" fill="#1f77b4"/>
<circle cx="994.74" cy="1491.78" r="2.8" fill="#1f77b4"/>
<circle cx="1032.94" cy="1488.51" r="2.8" fill="#1f77b4"/>
<circle cx="1071.13" cy="1486.33" r="2.8" fill="#1f77b4"/>
<circle cx="1109.33" cy="1484.15" r="2.8" fill="#1f77b4"/>
<circle cx="1147.53" cy="1481.97" r="2.8" fill="#1f77b4"/>
<text transform="translate(727.36 1507.3) scale(1.006 1)" font-size="13.9" text-anchor="middle">0</text>
<text transform="translate(765.55 1507.3) scale(1.006 1)" font-size="13.9" text-anchor="middle">0</text>
<text transform="translate(803.75 1507.3) scale(1.006 1)" font-size="13.9" text-anchor="middle">0</text>
<text transform="translate(841.95 1507.3) scale(1.006 1)" font-size="13.9" text-anchor="middle">0</text>
<text transform="translate(880.15 1496.4) scale(1.006 1)" font-size="13.9" text-anchor="middle">1</text>
<text transform="translate(918.34 1496.4) scale(1.006 1)" font-size="13.9" text-anchor="middle">1</text>
<text transform="translate(956.54 1496.4) scale(1.006 1)" font-size="13.9" text-anchor="middle">1</text>
<text transform="translate(994.74 1496.4) scale(1.006 1)" font-size="13.9" text-anchor="middle">1</text>
<text transform="translate(1032.94 1485.5) scale(1.006 1)" font-size="13.9" text-anchor="middle">2</text>
<text transform="translate(1071.13 1485.5) scale(1.006 1)" font-size="13.9" text-anchor="middle">2</text>
<text transform="translate(1109.33 1485.5) scale(1.006 1)" font-size="13.9" text-anchor="middle">2</text>
<text transform="translate(1147.53 1485.5) scale(1.006 1)" font-size="13.9" text-anchor="middle">2</text>
<path d="M765.55 1511.4v5.2M841.95 1511.4v5.2M918.34 1511.4v5.2M994.74 1511.4v5.2M1071.13 1511.4v5.2M1147.53 1511.4v5.2M706.35 1511.4h-5.2M706.35 1456.9h-5.2" stroke="#000" stroke-width="1.1" fill="none"/>
<rect x="706.35" y="1456.9" width="462.19" height="54.5" fill="none" stroke="#000" stroke-width="1.1"/>
<text transform="translate(696.55 1516.47) scale(1.006 1)" font-size="13.9" text-anchor="end">0</text>
<text transform="translate(696.55 1461.97) scale(1.006 1)" font-size="13.9" text-anchor="end">5</text>
<text transform="translate(765.55 1532.3) scale(1.006 1)" font-size="13.9" text-anchor="middle">2</text>
<text transform="translate(841.95 1532.3) scale(1.006 1)" font-size="13.9" text-anchor="middle">4</text>
<text transform="translate(918.34 1532.3) scale(1.006 1)" font-size="13.9" text-anchor="middle">6</text>
<text transform="translate(994.74 1532.3) scale(1.006 1)" font-size="13.9" text-anchor="middle">8</text>
<text transform="translate(1071.13 1532.3) scale(1.006 1)" font-size="13.9" text-anchor="middle">10</text>
<text transform="translate(1147.53 1532.3) scale(1.006 1)" font-size="13.9" text-anchor="middle">12</text>
<text transform="translate(936.98 1118.6) scale(1.058 1)" font-size="13.9" text-anchor="middle">Test Accuracy of RTE</text>
<text transform="translate(936.8 1552.3) scale(1.048 1)" font-size="13.9" text-anchor="middle">Number of Transformer layer</text>
<text transform="translate(652.81 1255.7) rotate(-90) scale(1.021 1)" font-size="13.9" text-anchor="middle">Accuracy(%)</text>
<text transform="translate(650.14 1419.25) rotate(-90) scale(1.050 1)" font-size="13.9" text-anchor="middle">Training time(s)</text>
<text transform="translate(677.64 1485.65) rotate(-90) scale(1.050 1)" font-size="13.9" text-anchor="middle">Test time(s)</text>
</g>
</svg></body></html>
